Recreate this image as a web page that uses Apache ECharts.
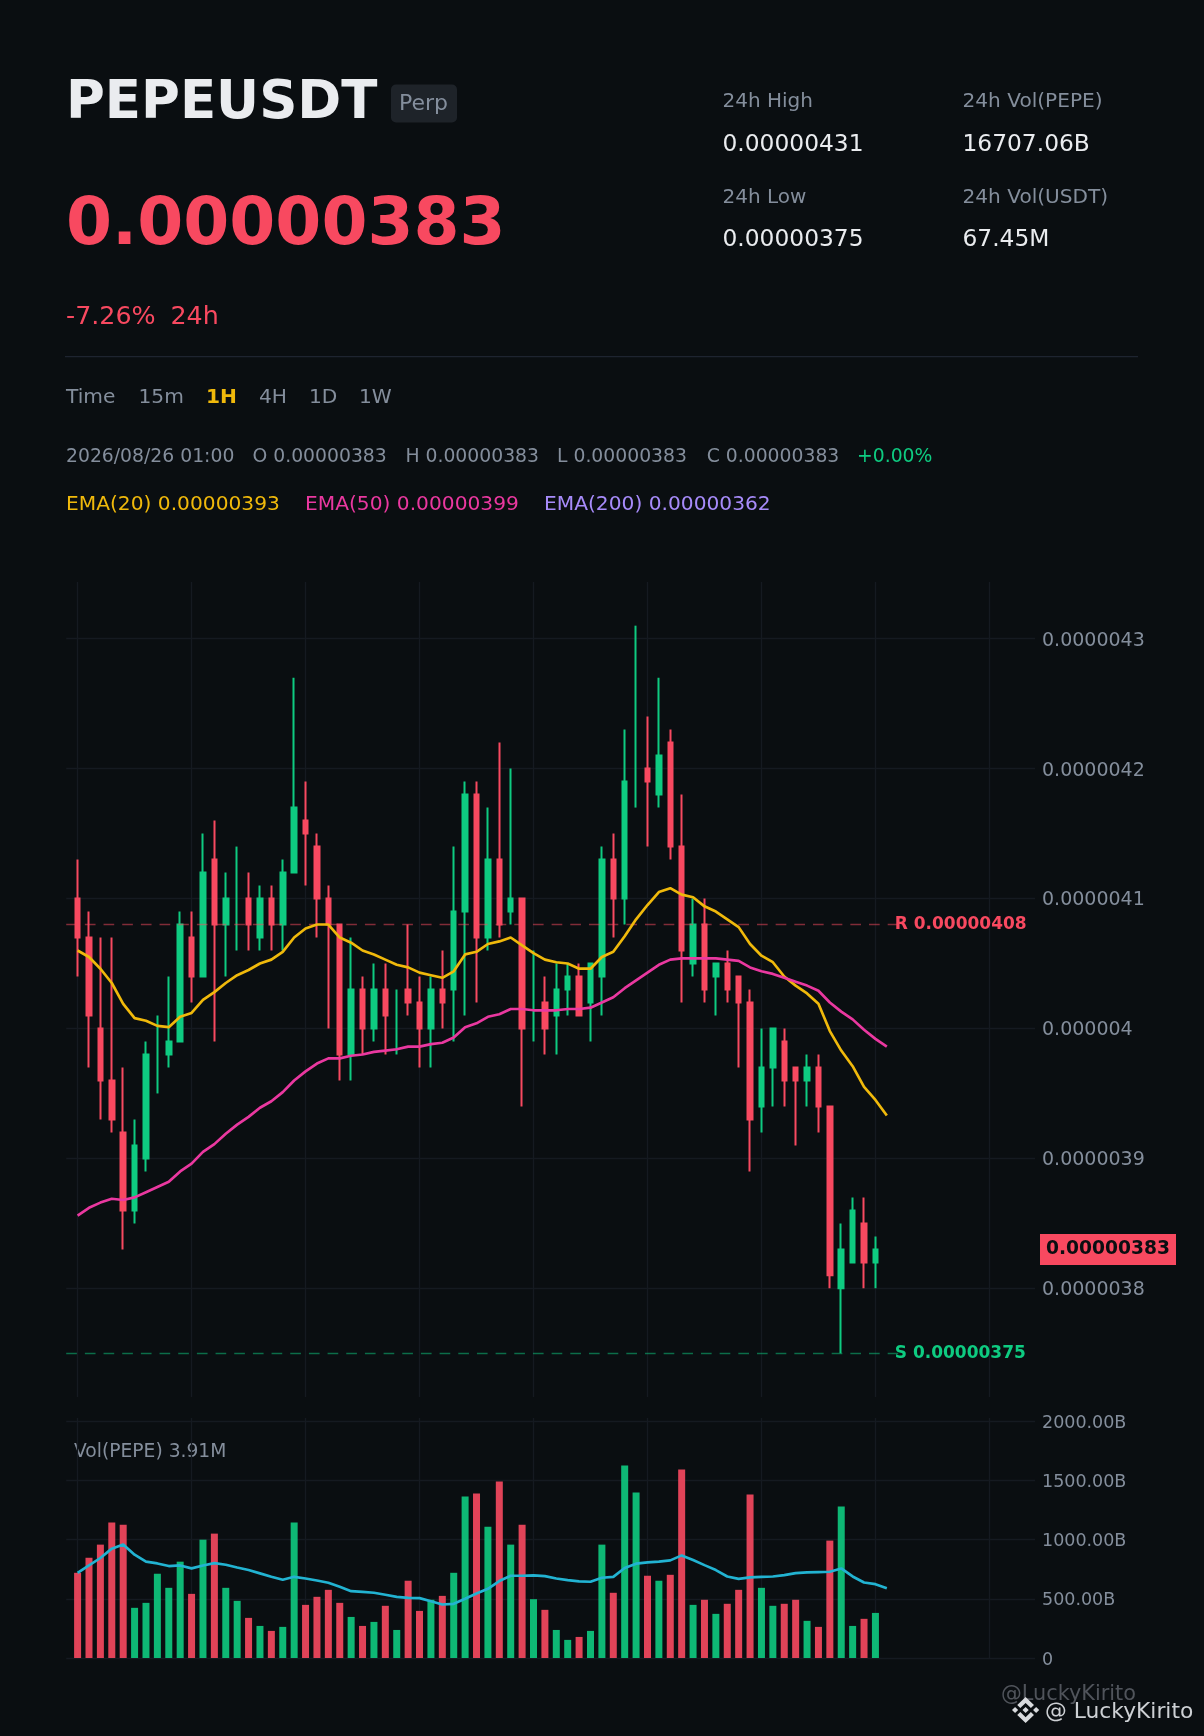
<!DOCTYPE html>
<html>
<head>
<meta charset="utf-8">
<style>html,body{margin:0;padding:0;background:#0a0e11}#c{width:1204px;height:1736px}</style>
<script src="https://cdn.jsdelivr.net/npm/echarts@6/dist/echarts.min.js"></script>
</head>
<body>
<div id="c"></div>
<script>
// Prices are in units of 0.00000001
const candleOpen  = [410,407,400,396,392,386,390,398,398,399,407,404,413,408,410,410,407,410,408,412,416,414,410,408,398,403,400,403,401,403,402,400,403,403,409,418,407,413,409,410,402,402,401,403,404,402,404,413,410,419,420,418,422,414,405,408,404,405,404,402,394,397,399,397,396,397,394,380,382,385,382];
const candleClose = [407,401,396,393,386,391,398,398,399,408,404,412,408,410,410,408,410,408,412,417,415,410,408,398,403,400,403,401,401,402,400,403,402,409,418,407,413,408,410,400,402,400,403,404,401,405,413,410,419,419,419,421,414,406,408,403,405,403,402,393,397,400,396,396,397,394,381,383,386,382,383];
const candleLow   = [404,397,393,392,383,385,389,395,397,399,402,404,399,404,406,406,406,406,406,412,411,407,400,396,396,398,399,398,398,401,397,397,400,399,401,402,406,407,408,394,399,398,398,401,401,399,401,407,408,417,414,417,413,402,404,402,401,402,397,389,392,394,394,391,394,392,380,375,382,380,380];
const candleHigh  = [413,409,407,407,397,393,399,401,404,409,409,415,416,412,414,412,411,411,413,427,419,415,411,408,407,404,405,405,403,408,404,404,406,414,419,419,417,422,420,410,406,404,405,405,405,405,414,415,423,431,424,427,423,418,410,410,405,406,404,403,400,400,400,397,398,398,394,385,387,387,384];
const ema20 = [406.0,405.5,404.6,403.5,401.9,400.8,400.6,400.2,400.1,400.9,401.2,402.2,402.8,403.5,404.1,404.5,405.0,405.3,405.9,407.0,407.7,408.0,408.0,407.0,406.6,406.0,405.7,405.3,404.9,404.7,404.3,404.1,403.9,404.4,405.7,405.9,406.5,406.7,407.0,406.4,405.8,405.3,405.1,405.0,404.6,404.6,405.5,405.9,407.1,408.4,409.5,410.5,410.8,410.3,410.1,409.4,409.0,408.4,407.8,406.5,405.6,405.1,404.0,403.3,402.7,401.9,399.8,398.3,397.1,395.5,394.5,393.3];
const ema50 = [385.6,386.2,386.6,386.9,386.8,387.0,387.4,387.8,388.2,389.0,389.6,390.5,391.1,391.9,392.6,393.2,393.9,394.4,395.1,396.0,396.7,397.3,397.7,397.7,397.9,398.0,398.2,398.3,398.4,398.6,398.6,398.8,398.9,399.3,400.1,400.4,400.9,401.1,401.5,401.5,401.4,401.4,401.4,401.5,401.5,401.6,402.0,402.4,403.1,403.7,404.3,404.9,405.3,405.4,405.4,405.4,405.4,405.3,405.2,404.7,404.4,404.2,403.9,403.6,403.3,402.9,402.0,401.3,400.7,399.9,399.2,398.6];
// Volume in billions
const volume = [720,847,958,1144,1127,424,466,712,593,814,542,1000,1051,593,483,339,271,229,263,1144,449,517,576,466,347,271,305,441,237,653,398,492,525,720,1364,1390,1110,1492,958,1127,497,407,237,153,178,229,958,551,1627,1398,695,653,703,1593,449,492,373,458,576,1381,593,441,458,492,314,263,992,1280,271,331,381];
const volumeMa = [720,783,845,924,960,873,814,799,777,782,757,782,802,788,765,743,715,686,661,686,672,655,636,602,565,559,551,534,517,508,506,480,452,458,500,545,585,650,695,695,698,692,672,658,647,644,678,686,760,797,808,814,825,867,828,785,743,689,669,681,686,689,700,717,723,726,729,757,689,638,624,590];
const resistance = 408, support = 375, lastPrice = 383;
const priceTicksMin = 371.64, priceTicksMax = 434.36;
const volumeMax = 2028;

const categories = Array.from({length: 86}, (_, i) => String(i));
const RED = '#F84960', GREEN = '#0ECB81', GREY = '#848E9C', WHITE = '#EAECEF', GOLD = '#F0B90B', PINK = '#EA38A0', PURPLE = '#A78BFA', CYAN = '#22B3D2', GRID = '#151A21';
const FONT = '"DejaVu Sans", sans-serif';

// candlestick rows: [open, close, low, high]; open === close has no body
const bodied = candleOpen.map((o, i) => o === candleClose[i] ? '-' : [o, candleClose[i], candleLow[i], candleHigh[i]]);
const flat   = candleOpen.map((o, i) => o === candleClose[i] ? [o, candleClose[i], candleLow[i], candleHigh[i]] : '-');
const lead = a => ['-'].concat(a);

function T(text, x, baseline, size, color, weight) {
  return {type: 'text', silent: true, x: x, y: baseline - size * 0.26,
    style: {text: text, fill: color, font: (weight || 'normal') + ' ' + size + 'px ' + FONT, verticalAlign: 'middle', align: 'left'}};
}
const menu = [['Time',66,GREY],['15m',138.5,GREY],['1H',206,GOLD,'bold'],['4H',259,GREY],['1D',309,GREY],['1W',359,GREY]];
const ohlc = [['2026/08/26 01:00',66,GREY],['O 0.00000383',252.5,GREY],['H 0.00000383',405.4,GREY],['L 0.00000383',557,GREY],['C 0.00000383',706.7,GREY],['+0.00%',857,GREEN]];
const emaText = [['EMA(20) 0.00000393',66,GOLD],['EMA(50) 0.00000399',305,PINK],['EMA(200) 0.00000362',544,PURPLE]];
const logoParts = [
  [[38.73,53.2],[63.3,28.63],[87.89,53.22],[102.19,38.92],[63.3,0],[24.42,38.9]],
  [[0,63.31],[14.3,49],[28.6,63.3],[14.3,77.6]],
  [[38.73,73.41],[63.3,97.98],[87.89,73.39],[102.19,87.69],[63.3,126.61],[24.42,87.71]],
  [[98.01,63.3],[112.31,49],[126.61,63.3],[112.31,77.6]],
  [[77.83,63.3],[63.3,48.78],[48.79,63.28],[63.3,77.81]]
];

const graphics = [
  T('PEPEUSDT', 66, 118, 53, WHITE, 'bold'),
  {type: 'rect', silent: true, shape: {x: 391, y: 84.5, width: 66, height: 38, r: 5}, style: {fill: '#1E2329'}},
  T('Perp', 399, 110, 22, GREY),
  T('0.00000383', 66, 244, 66.2, RED, 'bold'),
  T('-7.26%', 66, 324, 25.33, RED),
  T('24h', 170.5, 324, 25.33, RED),
  {type: 'rect', silent: true, shape: {x: 65, y: 356, width: 1073, height: 1.33}, style: {fill: '#1E2430'}},
  T('24h High', 722.5, 107, 20, GREY), T('0.00000431', 722.5, 151, 23.33, WHITE),
  T('24h Low', 722.5, 203, 20, GREY), T('0.00000375', 722.5, 246, 23.33, WHITE),
  T('24h Vol(PEPE)', 962.5, 107, 20.1, GREY), T('16707.06B', 962.5, 151, 23.33, WHITE),
  T('24h Vol(USDT)', 962.5, 203, 20.1, GREY), T('67.45M', 962.5, 246, 23.33, WHITE),
  ...menu.map(m => T(m[0], m[1], 403, 20.2, m[2], m[3])),
  ...ohlc.map(m => T(m[0], m[1], 462, 18.8, m[2])),
  ...emaText.map(m => T(m[0], m[1], 510, 20.2, m[2])),
  T('Vol(PEPE) 3.91M', 74, 1457, 18.7, GREY),
  T('@LuckyKirito', 1001, 1700, 20.8, '#50545B'),
  T('@ LuckyKirito', 1045, 1718, 21.8, '#CDD0D4'),
  {type: 'group', silent: true, x: 1012, y: 1697, scaleX: 0.215, scaleY: 0.206,
    children: logoParts.map(p => ({type: 'polygon', shape: {points: p}, style: {fill: '#D8DADD'}}))}
];

function priceLabel(v) { return String(parseFloat((v / 1e8).toFixed(7))); }
const xCommon = {type: 'category', data: categories, boundaryGap: false,
  axisLine: {show: false}, axisTick: {show: false}, axisLabel: {show: false},
  splitLine: {show: true, interval: i => (i - 1) % 10 === 0 && i > 0, lineStyle: {color: GRID, width: 1.33}}};
const sr = (v, color, dash, text) => ({
  symbol: 'none', silent: true, animation: false,
  lineStyle: {color: dash, width: 1.33, type: [10.67, 8]},
  label: {show: true, position: 'end', distance: -3.5, formatter: text, color: color, fontFamily: FONT, fontWeight: 'bold', fontSize: 17},
  data: [[{coord: ['0', v]}, {coord: ['73', v]}]]
});

const chart = echarts.init(document.getElementById('c'), null, {renderer: 'canvas', width: 1204, height: 1736});
chart.setOption({
  animation: false,
  backgroundColor: '#0a0e11',
  graphic: graphics,
  grid: [
    {left: 66.2, right: 169, top: 582, height: 815, containLabel: false},
    {left: 66.2, right: 169, top: 1418, height: 240, containLabel: false}
  ],
  xAxis: [Object.assign({gridIndex: 0}, xCommon), Object.assign({gridIndex: 1}, xCommon)],
  yAxis: [
    {gridIndex: 0, position: 'right', scale: true, min: priceTicksMin, max: priceTicksMax, splitNumber: 6,
      axisLine: {show: false}, axisTick: {show: false},
      axisLabel: {color: GREY, fontFamily: FONT, fontSize: 19, margin: 7, verticalAlign: 'top', lineHeight: 4, showMinLabel: false, showMaxLabel: false, formatter: priceLabel},
      splitLine: {show: true, showMinLine: false, showMaxLine: false, lineStyle: {color: GRID, width: 1.33}}},
    {gridIndex: 1, position: 'right', min: 0, max: volumeMax, interval: 500,
      axisLine: {show: false}, axisTick: {show: false},
      axisLabel: {color: GREY, fontFamily: FONT, fontSize: 17.5, margin: 7, verticalAlign: 'top', lineHeight: 4, showMaxLabel: false,
        formatter: v => v === 0 ? '0' : v.toFixed(2) + 'B'},
      splitLine: {show: true, showMaxLine: false, lineStyle: {color: GRID, width: 1.33}}}
  ],
  series: [
    {name: 'Candles', type: 'candlestick', xAxisIndex: 0, yAxisIndex: 0, barWidth: 5, data: lead(bodied),
      itemStyle: {color: GREEN, color0: RED, borderColor: GREEN, borderColor0: RED, borderColorDoji: GREEN, borderWidth: 2},
      markLine: sr(resistance, RED, 'rgba(248,73,96,0.5)', 'R 0.00000408'),
      markPoint: {silent: true, animation: false, data: [{coord: ['85', lastPrice], symbol: 'rect', symbolSize: [136, 31], symbolOffset: [73, 0],
        itemStyle: {color: RED}, label: {show: true, position: 'inside', formatter: '0.00000383', color: '#0a0e11', fontFamily: FONT, fontWeight: 'bold', fontSize: 18.67}}]}},
    {name: 'Flat candles', type: 'candlestick', xAxisIndex: 0, yAxisIndex: 0, barWidth: 1, data: lead(flat),
      itemStyle: {color: GREEN, color0: RED, borderColor: GREEN, borderColor0: RED, borderColorDoji: GREEN, borderWidth: 2},
      markLine: sr(support, GREEN, 'rgba(14,203,129,0.5)', 'S 0.00000375')},
    {name: 'EMA(20)', type: 'line', xAxisIndex: 0, yAxisIndex: 0, data: lead(ema20), symbol: 'none', lineStyle: {color: GOLD, width: 2.67}, z: 5},
    {name: 'EMA(50)', type: 'line', xAxisIndex: 0, yAxisIndex: 0, data: lead(ema50), symbol: 'none', lineStyle: {color: PINK, width: 2.67}, z: 5},
    {name: 'Volume', type: 'bar', xAxisIndex: 1, yAxisIndex: 1, barWidth: 7,
      data: lead(volume.map((v, i) => ({value: v, itemStyle: {color: candleClose[i] >= candleOpen[i] ? GREEN : RED, opacity: 0.9}})))},
    {name: 'Vol MA', type: 'line', xAxisIndex: 1, yAxisIndex: 1, data: lead(volumeMa), symbol: 'none', lineStyle: {color: CYAN, width: 2.67}, z: 5}
  ]
});
</script>
</body>
</html>
